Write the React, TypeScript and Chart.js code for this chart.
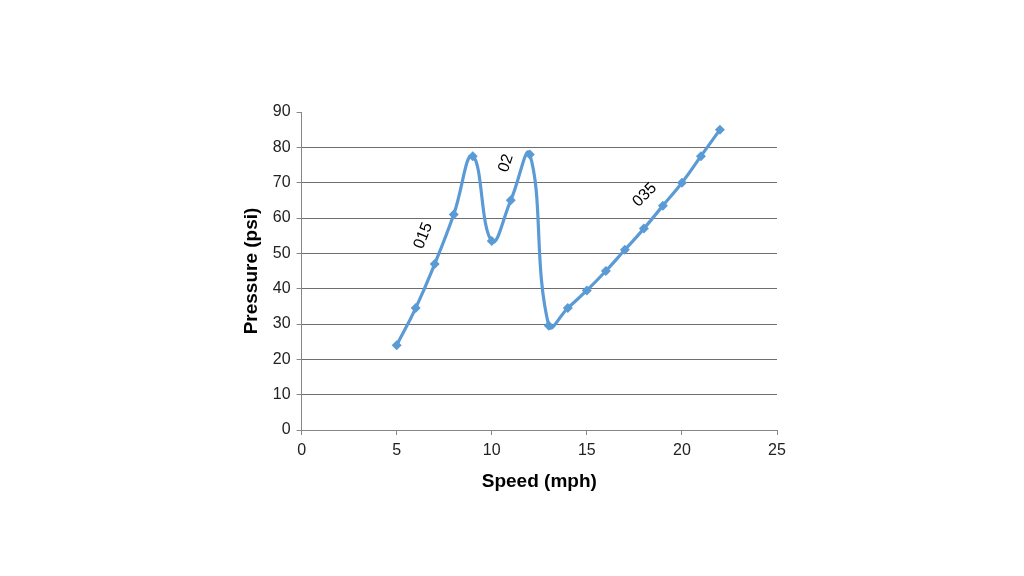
import React, { useEffect, useRef } from "react";
import { Chart, registerables } from "chart.js";

Chart.register(...registerables);

const speed = [5, 6, 7, 8, 9, 10, 11, 12, 13, 14, 15, 16, 17, 18, 19, 20, 21, 22];
const pressure = [24, 34.5, 47, 61, 77.5, 53.5, 65, 78, 29.5, 34.5, 39.5, 45, 51, 57, 63.5, 70, 77.5, 85];

const noteTexts = ["015", "02", "035"];
const noteX = [6.4, 10.75, 18.05];
const noteY = [55, 75.5, 66.5];
const noteAngles = [-68, -72, -45];

const xTicksMax = 25;
const yTicksMax = 90;

const notesPlugin = {
  id: "notes",
  afterDatasetsDraw(chart: any) {
    const ctx = chart.ctx;
    const xs = chart.scales.x;
    const ys = chart.scales.y;
    ctx.save();
    ctx.fillStyle = "#000";
    ctx.font = '16px "Liberation Sans", Arial, sans-serif';
    ctx.textAlign = "center";
    ctx.textBaseline = "middle";
    noteTexts.forEach((t, i) => {
      const px = xs.getPixelForValue(noteX[i]);
      const py = ys.getPixelForValue(noteY[i]);
      ctx.save();
      ctx.translate(px, py);
      ctx.rotate((noteAngles[i] * Math.PI) / 180);
      ctx.fillText(t, 0, 0);
      ctx.restore();
    });
    ctx.restore();
  },
};

export default function App() {
  const ref = useRef<HTMLCanvasElement | null>(null);
  useEffect(() => {
    if (!ref.current) return;
    const chart = new Chart(ref.current, {
      type: "line",
      data: {
        datasets: [
          {
            data: speed.map((s, i) => ({ x: s, y: pressure[i] })),
            borderColor: "#5B9BD5",
            backgroundColor: "#5B9BD5",
            borderWidth: 3.2,
            tension: 0.45,
            pointStyle: "rectRot",
            pointRadius: 5,
            pointBorderWidth: 0,
            fill: false,
          },
        ],
      },
      options: {
        animation: false,
        responsive: false,
        maintainAspectRatio: false,
        layout: { padding: { left: 240, right: 247, top: 112, bottom: 83 } },
        plugins: { legend: { display: false }, tooltip: { enabled: false } },
        scales: {
          x: {
            type: "linear",
            min: 0,
            max: xTicksMax,
            ticks: {
              stepSize: 5,
              color: "#222",
              font: { family: '"Liberation Sans", Arial, sans-serif', size: 16 },
              padding: 6,
            },
            grid: { drawOnChartArea: false, tickLength: 5, color: "#868686" },
            border: { color: "#868686", width: 1 },
            title: {
              display: true,
              text: "Speed (mph)",
              color: "#000",
              font: { family: '"Liberation Sans", Arial, sans-serif', size: 19, weight: "bold" },
              padding: { top: 4, bottom: 0 },
            },
          },
          y: {
            min: 0,
            max: yTicksMax,
            ticks: {
              stepSize: 10,
              color: "#222",
              font: { family: '"Liberation Sans", Arial, sans-serif', size: 16 },
              padding: 6,
            },
            grid: {
              color: (c: any) => (c.tick && c.tick.value === yTicksMax ? "rgba(0,0,0,0)" : "#6e6e6e"),
              tickColor: "#868686",
              tickLength: 5,
              lineWidth: 1,
            },
            border: { color: "#868686", width: 1 },
            title: {
              display: true,
              text: "Pressure (psi)",
              color: "#000",
              font: { family: '"Liberation Sans", Arial, sans-serif', size: 19, weight: "bold" },
              padding: { top: 0, bottom: 4 },
            },
          },
        },
      },
      plugins: [notesPlugin],
    });
    return () => chart.destroy();
  }, []);
  return (
    <div style={{ position: "fixed", left: 0, top: 0, width: 1024, height: 576, background: "#fff" }}>
      <canvas ref={ref} width={1024} height={576} style={{ width: 1024, height: 576 }} />
    </div>
  );
}
